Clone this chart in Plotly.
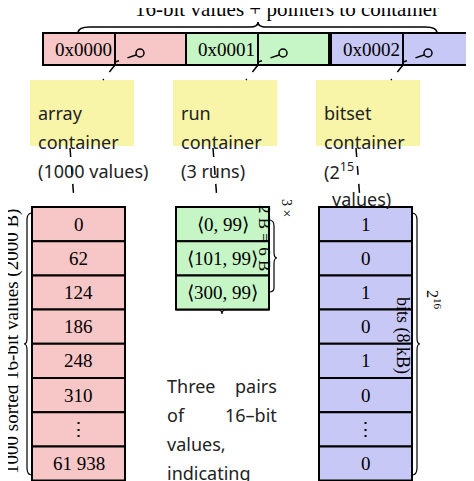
import plotly.graph_objects as go

array_values = ["0", "62", "124", "186", "248", "310", "⋮", "61 938"]
run_values = ["⟨0, 99⟩", "⟨101, 99⟩", "⟨300, 99⟩"]
bitset_values = ["1", "0", "1", "0", "1", "0", "⋮", "0"]
keys = ["0x0000", "0x0001", "0x0002"]
container_names = [["array", "container", "(1000 values)"],
                   ["run", "container", "(3 runs)"],
                   ["bitset", "container", "(2<sup>15</sup>"]]
colors = ["#f7c6c6", "#c6f5c6", "#c8c8f7"]

W, H = 474, 481
OFF = 8  # default page margin
fig = go.Figure()
shapes, ann = [], []
SERIF = "Liberation Serif"
SANS = "Noto Sans"

def rect(x0, y0, x1, y1, fill, lw=2):
    shapes.append(dict(type="rect", x0=x0, x1=x1, y0=y0, y1=y1, fillcolor=fill,
                       line=dict(color="black", width=lw), layer="below"))

def text(x, y, s, size=15, font=SERIF, anchor="center", angle=0, color="black"):
    ann.append(dict(x=x, y=y, text=s, showarrow=False, xanchor=anchor, yanchor="middle",
                    textangle=angle, font=dict(family=font, size=size, color=color)))

# title and brace
text(287, 9, "16-bit values + pointers to container", size=21)
shapes.append(dict(type="path", path="M 78 33 Q 78 27 90 27 L 250 27 Q 258 27 258 22 Q 258 27 266 27 L 425 27 Q 437 27 437 33",
                   line=dict(color="black", width=1.5)))

# top row
top_x = [43, 186, 331]
cw = 143
for i, k in enumerate(keys):
    x0 = top_x[i]
    rect(x0, 33, x0 + cw, 65, colors[i])
    div = x0 + 72
    shapes.append(dict(type="line", x0=div, x1=div, y0=33, y1=65, line=dict(color="black", width=2)))
    text(x0 + 10, 49, k, size=19, anchor="left")
    cx = div + 25
    shapes.append(dict(type="circle", x0=cx - 4, x1=cx + 4, y0=49, y1=57, line=dict(color="black", width=1.5)))
    shapes.append(dict(type="line", x0=cx - 4, x1=div, y0=55, y1=62, line=dict(color="black", width=1.5, dash="dash")))
    shapes.append(dict(type="line", x0=div, x1=div - 12, y0=65, y1=80, line=dict(color="black", width=1.5, dash="dash")))

# yellow notes
note_x = [30, 173, 316]
for i, lines in enumerate(container_names):
    x0 = note_x[i]
    shapes.append(dict(type="rect", x0=x0, x1=x0 + 104, y0=80, y1=146, fillcolor="#f8f5a8",
                       line=dict(width=0), layer="below"))
    for j, s in enumerate(lines):
        text(x0 + 6, 113 + j * 29, s, size=18, font=SANS, anchor="left", color="#222")
    shapes.append(dict(type="line", x0=x0 + 40, x1=x0 + 44, y0=148, y1=200,
                       line=dict(color="black", width=1.5, dash="dash")))
text(330, 199, "values)", size=18, font=SANS, anchor="left", color="#222")

# columns
rh = 34.2
y_top = 207
def column(x0, vals, fill):
    for j, v in enumerate(vals):
        y0 = y_top + j * rh
        rect(x0, y0, x0 + 93, y0 + rh, fill)
        text(x0 + 46.5, y0 + rh / 2, v, size=19)

column(32, array_values, colors[0])
column(176, run_values, colors[1])
column(319, bitset_values, colors[2])

# braces
shapes.append(dict(type="path", path="M 32 213 Q 27 213 27 220 L 27 338 Q 27 344 24 344 Q 27 344 27 350 L 27 468 Q 27 475 32 475",
                   line=dict(color="black", width=1.2)))
shapes.append(dict(type="path", path="M 412 213 Q 417 213 417 220 L 417 338 Q 417 344 420 344 Q 417 344 417 350 L 417 468 Q 417 475 412 475",
                   line=dict(color="black", width=1.2)))
shapes.append(dict(type="path", path="M 269 220 Q 274 220 274 226 L 274 252 Q 274 258 277 258 Q 274 258 274 264 L 274 288 Q 274 292 269 292",
                   line=dict(color="black", width=1.2)))
shapes.append(dict(type="path", path="M 176 310 L 218 310 Q 222 310 222 314 Q 222 310 226 310 L 269 310",
                   line=dict(color="black", width=1.2)))

text(12, 342, "1000 sorted 16-bit values (2000 B)", size=19, angle=-90)
text(265, 238, "2 B = 6 B", size=17, angle=90)
text(287, 208, "3 ×", size=14, angle=90)
text(403, 335, "bits (8 kB)", size=18, angle=90)
text(434, 300, "2<sup>16</sup>", size=16, angle=90)

note_rows = [["Three", "pairs"], ["of", "16–bit"], ["values,"], ["indicating"]]
for j, row in enumerate(note_rows):
    y = 386 + j * 29
    text(165, y, row[0], size=18, font=SANS, anchor="left", color="#222")
    if len(row) > 1:
        text(279, y, row[1], size=18, font=SANS, anchor="right", color="#222")

fig.update_layout(width=W - OFF, height=H - OFF, margin=dict(l=0, r=0, t=0, b=0),
                  plot_bgcolor="white", paper_bgcolor="white",
                  xaxis=dict(range=[OFF, W], visible=False, fixedrange=True),
                  yaxis=dict(range=[H, OFF], visible=False, fixedrange=True),
                  shapes=shapes, annotations=ann, showlegend=False)
fig.write_html("out.html")
